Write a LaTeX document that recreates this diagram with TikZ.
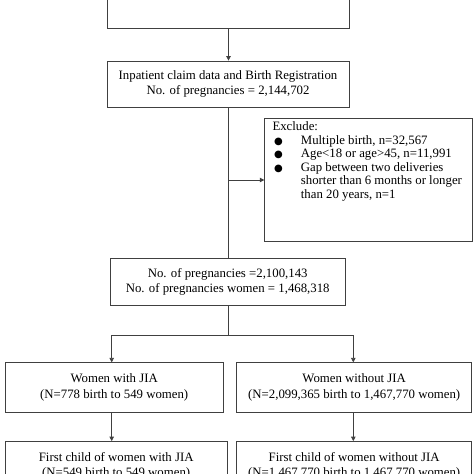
\documentclass[tikz,border=0pt]{standalone}
\usepackage{fontspec}
\setmainfont{Liberation Serif}
\newfontfamily\symfont{DejaVu Sans}
\usetikzlibrary{arrows.meta}
\begin{document}
\begin{tikzpicture}[x=1pt,y=-1pt,
  box/.style={draw=black!75, line width=0.8pt, inner sep=0pt, align=center,
    font=\fontsize{12.8}{15.7}\selectfont},
  conn/.style={draw=black!75, line width=0.8pt},
  arr/.style={conn, -{Triangle[width=4.5pt,length=4.5pt]}}]
\useasboundingbox (0,0) rectangle (474,474);
\clip (0,0) rectangle (474,474);
\fill[white] (0,0) rectangle (474,474);
% top (cut) box
\node[box, minimum width=242, minimum height=60] (b1) at (228,-1.5) {};
\node[box, minimum width=242, minimum height=46] (b2) at (228,84)
  {Inpatient claim data and Birth Registration\\No. of pregnancies = 2,144,702};
\node[box, minimum width=208, minimum height=122.7, anchor=north west] (ex) at (264.3,118.3) {};
\node[anchor=north west, inner sep=0pt, font=\fontsize{12.8}{13.5}\selectfont] (extext) at (272.3,121)
  {\begin{tabular}{@{}p{28.4pt}@{}l@{}}
   \multicolumn{2}{@{}l@{}}{Exclude:}\\
   \hspace{1.6pt}{\symfont\fontsize{10}{13.5}\selectfont ●} & Multiple birth, n=32,567\\
   \hspace{1.6pt}{\symfont\fontsize{10}{13.5}\selectfont ●} & Age<18 or age>45, n=11,991\\
   \hspace{1.6pt}{\symfont\fontsize{10}{13.5}\selectfont ●} & Gap between two deliveries\\
    & shorter than 6 months or longer\\
    & than 20 years, n=1
   \end{tabular}};
\node[box, minimum width=235.3, minimum height=47.2] (b3) at (227.7,281.9)
  {No. of pregnancies =2,100,143\\No. of pregnancies women = 1,468,318};
\node[box, minimum width=218.5, minimum height=49.5] (b4l) at (114.2,387.5)
  {Women with JIA\\(N=778 birth to 549 women)};
\node[box, minimum width=235, minimum height=49.5] (b4r) at (354.2,387.5)
  {Women without JIA\\(N=2,099,365 birth to 1,467,770 women)};
\node[box, minimum width=222.5, minimum height=48.4] (b5l) at (116.2,465.7)
  {First child of women with JIA\\(N=549 birth to 549 women)};
\node[box, minimum width=235, minimum height=48.4] (b5r) at (354.2,465.7)
  {First child of women without JIA\\(N=1,467,770 birth to 1,467,770 women)};
\coordinate (split) at (228.5,335);
\coordinate (exarr) at (228.5,180);
\draw[arr] (b1.south -| 228.5,0) -- (b2.north -| 228.5,0);
\draw[conn] (b2.south -| 228.5,0) -- (b3.north -| 228.5,0);
\draw[arr] (exarr) -- (exarr -| ex.west);
\draw[conn] (b3.south -| split) -- (split);
\draw[arr] (split) -| (111.7,0 |- b4l.north);
\draw[arr] (split) -| (353.3,0 |- b4r.north);
\draw[arr] (111.7,0 |- b4l.south) -- (111.7,0 |- b5l.north);
\draw[arr] (353.3,0 |- b4r.south) -- (353.3,0 |- b5r.north);
\end{tikzpicture}
\end{document}
